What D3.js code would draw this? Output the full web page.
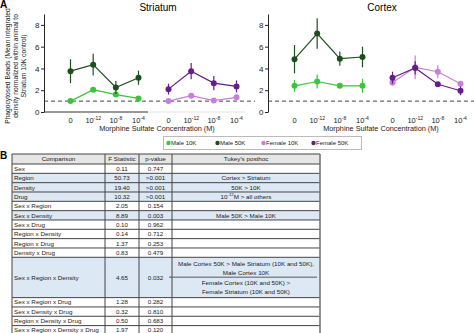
<!DOCTYPE html>
<html><head><meta charset="utf-8">
<script src="https://cdn.jsdelivr.net/npm/d3@7"></script>
<style>body{margin:0;background:#fff}svg{display:block}</style>
</head><body>
<script>
// ---------- DATA ----------
const regions = ["Striatum", "Cortex"];
const sexes = ["Male", "Female"];
const concentrations = ["0", "-12", "-8", "-4"];
const seriesNames = ["Male 10K", "Male 50K", "Female 10K", "Female 50K"];
const seriesSex = ["Male", "Male", "Female", "Female"];
const yTicks = [0, 2, 4, 6, 8];
const baselineValue = 1;

const striatumMale10K = [1.0, 2.05, 1.6, 1.25];
const striatumMale10KErr = [0.08, 0.2, 0.18, 0.12];
const striatumMale50K = [3.75, 4.35, 2.25, 3.15];
const striatumMale50KErr = [1.1, 1.0, 0.6, 0.65];
const striatumFemale10K = [1.0, 1.5, 1.05, 1.35];
const striatumFemale10KErr = [0.08, 0.22, 0.1, 0.15];
const striatumFemale50K = [2.1, 3.75, 2.65, 2.35];
const striatumFemale50KErr = [0.5, 0.75, 0.65, 0.55];

const cortexMale10K = [2.4, 2.8, 2.4, 2.4];
const cortexMale10KErr = [0.55, 0.65, 0.15, 0.65];
const cortexMale50K = [4.85, 7.2, 4.9, 5.05];
const cortexMale50KErr = [1.3, 1.4, 0.65, 0.95];
const cortexFemale10K = [2.7, 4.1, 3.7, 2.6];
const cortexFemale10KErr = [0.3, 1.1, 0.6, 0.25];
const cortexFemale50K = [3.15, 4.05, 2.55, 1.95];
const cortexFemale50KErr = [0.55, 0.6, 0.2, 0.4];

const tableHeader = ["Comparison", "F Statistic", "p-value", "Tukey's posthoc"];
const comparisons = ["Sex", "Region", "Density", "Drug", "Sex x Region", "Sex x Density", "Sex x Drug",
  "Region x Density", "Region x Drug", "Density x Drug", "Sex x Region x Density", "Sex x Region x Drug",
  "Sex x Density x Drug", "Region x Density x Drug", "Sex x Region x Density x Drug"];
const fStatistics = ["0.11", "50.73", "19.40", "10.32", "2.05", "8.89", "0.10", "0.14", "1.37", "0.83",
  "4.65", "1.28", "0.32", "0.50", "1.97"];
const pValues = ["0.747", ">0.001", ">0.001", ">0.001", "0.154", "0.003", "0.962", "0.712", "0.253", "0.479",
  "0.032", "0.282", "0.810", "0.683", "0.120"];
const posthoc = [[], [["Cortex > Striatum"]], [["50K > 10K"]], [["10^-12M > all others"]], [],
  [["Male 50K > Male 10K"]], [], [], [], [],
  [["Male Cortex 50K > Male Striatum (10K and 50K),", "Male Cortex 10K"],
   ["Female Cortex (10K and 50K) >", "Female Striatum (10K and 50K)"]],
  [], [], [], []];
const significant = [false, true, true, true, false, true, false, false, false, false, true, false, false, false, false];

// ---------- STYLE / LAYOUT ----------
const W = 474, H = 333;
const colors = {"Male 10K": "#3cc43c", "Male 50K": "#1d4f1d", "Female 10K": "#c77fdc", "Female 50K": "#651c8c"};
const font = "'Liberation Sans', Arial, sans-serif";
const panelX0 = {Striatum: 44, Cortex: 268};
const yScale = d3.scaleLinear().domain([0, 9]).range([112, 14]);

const svg = d3.select("body").append("svg").attr("width", W).attr("height", H);

const regionData = {
  Striatum: [[striatumMale10K, striatumMale10KErr], [striatumMale50K, striatumMale50KErr],
             [striatumFemale10K, striatumFemale10KErr], [striatumFemale50K, striatumFemale50KErr]],
  Cortex: [[cortexMale10K, cortexMale10KErr], [cortexMale50K, cortexMale50KErr],
           [cortexFemale10K, cortexFemale10KErr], [cortexFemale50K, cortexFemale50KErr]]
};

svg.append("text").attr("x", 0).attr("y", 8).attr("font-family", font).attr("font-weight", "bold")
  .attr("font-size", 10).text("A");

regions.forEach(region => {
  const x0 = panelX0[region];
  const g = svg.append("g");
  const groupScale = d3.scalePoint().domain(sexes).range([x0 + 26.5, x0 + 124.5]);
  const inner = d3.scalePoint().domain(concentrations).range([0, 68]);
  const xPos = (sex, c) => groupScale(sex) + inner(c);

  g.append("text").attr("x", x0 + 114).attr("y", 11).attr("text-anchor", "middle")
    .attr("font-family", font).attr("font-size", 10).text(region);

  const yAxis = d3.axisLeft(yScale).tickValues(yTicks).tickSize(3).tickSizeOuter(0).tickPadding(1.5);
  const ya = g.append("g").attr("transform", `translate(${x0},0)`).call(yAxis);
  ya.selectAll("text").attr("font-family", font).attr("font-size", 8).attr("fill", "#222");
  ya.selectAll("line,path").attr("stroke", "#222");

  if (region === "Striatum") {
    g.append("line").attr("x1", x0).attr("x2", x0 + 104).attr("y1", yScale(0)).attr("y2", yScale(0))
      .attr("stroke", "#333").attr("stroke-width", 1);
    g.append("line").attr("x1", x0 + 104).attr("x2", x0 + 201).attr("y1", yScale(0)).attr("y2", yScale(0))
      .attr("stroke", "#e4e4e4").attr("stroke-width", 1);
  }

  g.append("line").attr("x1", x0).attr("x2", region === "Striatum" ? x0 + 211 : W)
    .attr("y1", yScale(baselineValue)).attr("y2", yScale(baselineValue))
    .attr("stroke", "#444").attr("stroke-width", 1).attr("stroke-dasharray", "4,3");

  sexes.forEach(sex => {
    concentrations.forEach(c => {
      const t = g.append("text").attr("x", xPos(sex, c)).attr("y", 123).attr("text-anchor", "middle")
        .attr("font-family", font).attr("font-size", 7.5).attr("fill", "#222");
      if (c === "0") t.text("0");
      else {
        t.append("tspan").text("10");
        t.append("tspan").attr("font-size", 5).attr("dy", -3.5).text(c);
      }
    });
  });

  g.append("text").attr("x", x0 + 113).attr("y", 131).attr("text-anchor", "middle")
    .attr("font-family", font).attr("font-size", 7.3).attr("fill", "#222")
    .text("Morphine Sulfate Concentration (M)");

  seriesNames.forEach((name, si) => {
    const [vals, errs] = regionData[region][si];
    const sex = seriesSex[si];
    const pts = concentrations.map((c, i) => ({x: xPos(sex, c), v: vals[i], e: errs[i]}));
    const col = colors[name];
    const line = d3.line().x(d => d.x).y(d => yScale(d.v));
    g.append("path").datum(pts).attr("d", line).attr("fill", "none").attr("stroke", col).attr("stroke-width", 1.2);
    g.selectAll(null).data(pts).enter().append("line")
      .attr("x1", d => d.x).attr("x2", d => d.x)
      .attr("y1", d => yScale(d.v - d.e)).attr("y2", d => yScale(d.v + d.e))
      .attr("stroke", col).attr("stroke-width", 1.2);
    g.selectAll(null).data(pts).enter().append("circle")
      .attr("cx", d => d.x).attr("cy", d => yScale(d.v)).attr("r", 3).attr("fill", col);
  });
});

const yTitleLines = ["Phagocytosed Beads (Mean integrated", "density normalized within animal to", "Striatum 10K control)"];
yTitleLines.forEach((t, i) => {
  svg.append("text").attr("transform", `translate(${10 + i * 8},66) rotate(-90)`)
    .attr("text-anchor", "middle")
    .attr("font-family", font).attr("font-size", 6.7).attr("fill", "#222").text(t);
});

const legend = svg.append("g");
legend.append("rect").attr("x", 163.5).attr("y", 136.5).attr("width", 198).attr("height", 13)
  .attr("fill", "#fff").attr("stroke", "#bbb").attr("stroke-width", 1);
const legendX = [168.5, 217.5, 263.5, 313.5];
seriesNames.forEach((name, i) => {
  legend.append("circle").attr("cx", legendX[i]).attr("cy", 143).attr("r", 2.2).attr("fill", colors[name]);
  legend.append("text").attr("x", legendX[i] + 2.5).attr("y", 145.2).attr("font-family", font)
    .attr("font-size", 6).attr("fill", "#222").text(name);
});

// ---------- TABLE ----------
svg.append("text").attr("x", 0).attr("y", 159).attr("font-family", font).attr("font-weight", "bold")
  .attr("font-size", 10).text("B");

const colX = [12, 105, 139, 172, 320];
const tableTop = 154, headerH = 10, rowH = 9.33;
const tfont = "'Liberation Sans', Arial, sans-serif", tsize = 6.25;
const tg = svg.append("g");

tg.append("rect").attr("x", colX[0]).attr("y", tableTop).attr("width", colX[4] - colX[0]).attr("height", headerH)
  .attr("fill", "#e6e6e6");
tableHeader.forEach((h, i) => {
  tg.append("text").attr("x", (colX[i] + colX[i + 1]) / 2).attr("y", tableTop + headerH / 2 + 2.2)
    .attr("text-anchor", "middle")
    .attr("font-family", tfont).attr("font-size", tsize).attr("fill", "#222").text(h);
});

let yCur = tableTop + headerH;
const rowLines = [tableTop, yCur];
const bl = 2.2;
comparisons.forEach((comp, ri) => {
  const blocks = posthoc[ri];
  const nLines = blocks.reduce((a, b) => a + b.length, 0);
  const h = nLines > 1 ? nLines * rowH + 3 : rowH;
  if (significant[ri]) {
    tg.append("rect").attr("x", colX[0]).attr("y", yCur).attr("width", colX[4] - colX[0]).attr("height", h)
      .attr("fill", "#dce8f4");
  }
  const cy = yCur + h / 2 + bl;
  tg.append("text").attr("x", colX[0] + 2).attr("y", cy)
    .attr("font-family", tfont).attr("font-size", tsize).attr("fill", "#222").text(comp);
  tg.append("text").attr("x", (colX[1] + colX[2]) / 2).attr("y", cy)
    .attr("text-anchor", "middle").attr("font-family", tfont).attr("font-size", tsize).attr("fill", "#222").text(fStatistics[ri]);
  tg.append("text").attr("x", (colX[2] + colX[3]) / 2).attr("y", cy)
    .attr("text-anchor", "middle").attr("font-family", tfont).attr("font-size", tsize).attr("fill", "#222").text(pValues[ri]);
  const cx = (colX[3] + colX[4]) / 2;
  let ly = nLines > 1 ? yCur + 1.5 + rowH / 2 : yCur + h / 2;
  blocks.forEach((block, bi) => {
    if (bi > 0) {
      tg.append("line").attr("x1", colX[3] - 3).attr("x2", colX[4] - 3)
        .attr("y1", ly - rowH / 2 - 0.3).attr("y2", ly - rowH / 2 - 0.3).attr("stroke", "#333").attr("stroke-width", 0.8);
      ly += 0.6;
    }
    block.forEach(txt => {
      const t = tg.append("text").attr("x", cx).attr("y", ly + bl)
        .attr("text-anchor", "middle").attr("font-family", tfont).attr("font-size", tsize).attr("fill", "#222");
      const m = txt.match(/^10\^(-\d+)(.*)$/);
      if (m) {
        t.append("tspan").text("10");
        t.append("tspan").attr("font-size", 4.3).attr("dy", -2.6).text(m[1]);
        t.append("tspan").attr("dy", 2.6).text(m[2]);
      } else t.text(txt);
      ly += rowH;
    });
  });
  yCur += h;
  rowLines.push(yCur);
});

rowLines.forEach(y => {
  tg.append("line").attr("x1", colX[0]).attr("x2", colX[4]).attr("y1", y).attr("y2", y)
    .attr("stroke", "#444").attr("stroke-width", 1);
});
colX.forEach((x, i) => {
  tg.append("line").attr("x1", x).attr("x2", x).attr("y1", tableTop).attr("y2", yCur)
    .attr("stroke", i === 4 ? "#777" : "#444").attr("stroke-width", i === 4 ? 1.6 : 1);
});
</script>
</body></html>
